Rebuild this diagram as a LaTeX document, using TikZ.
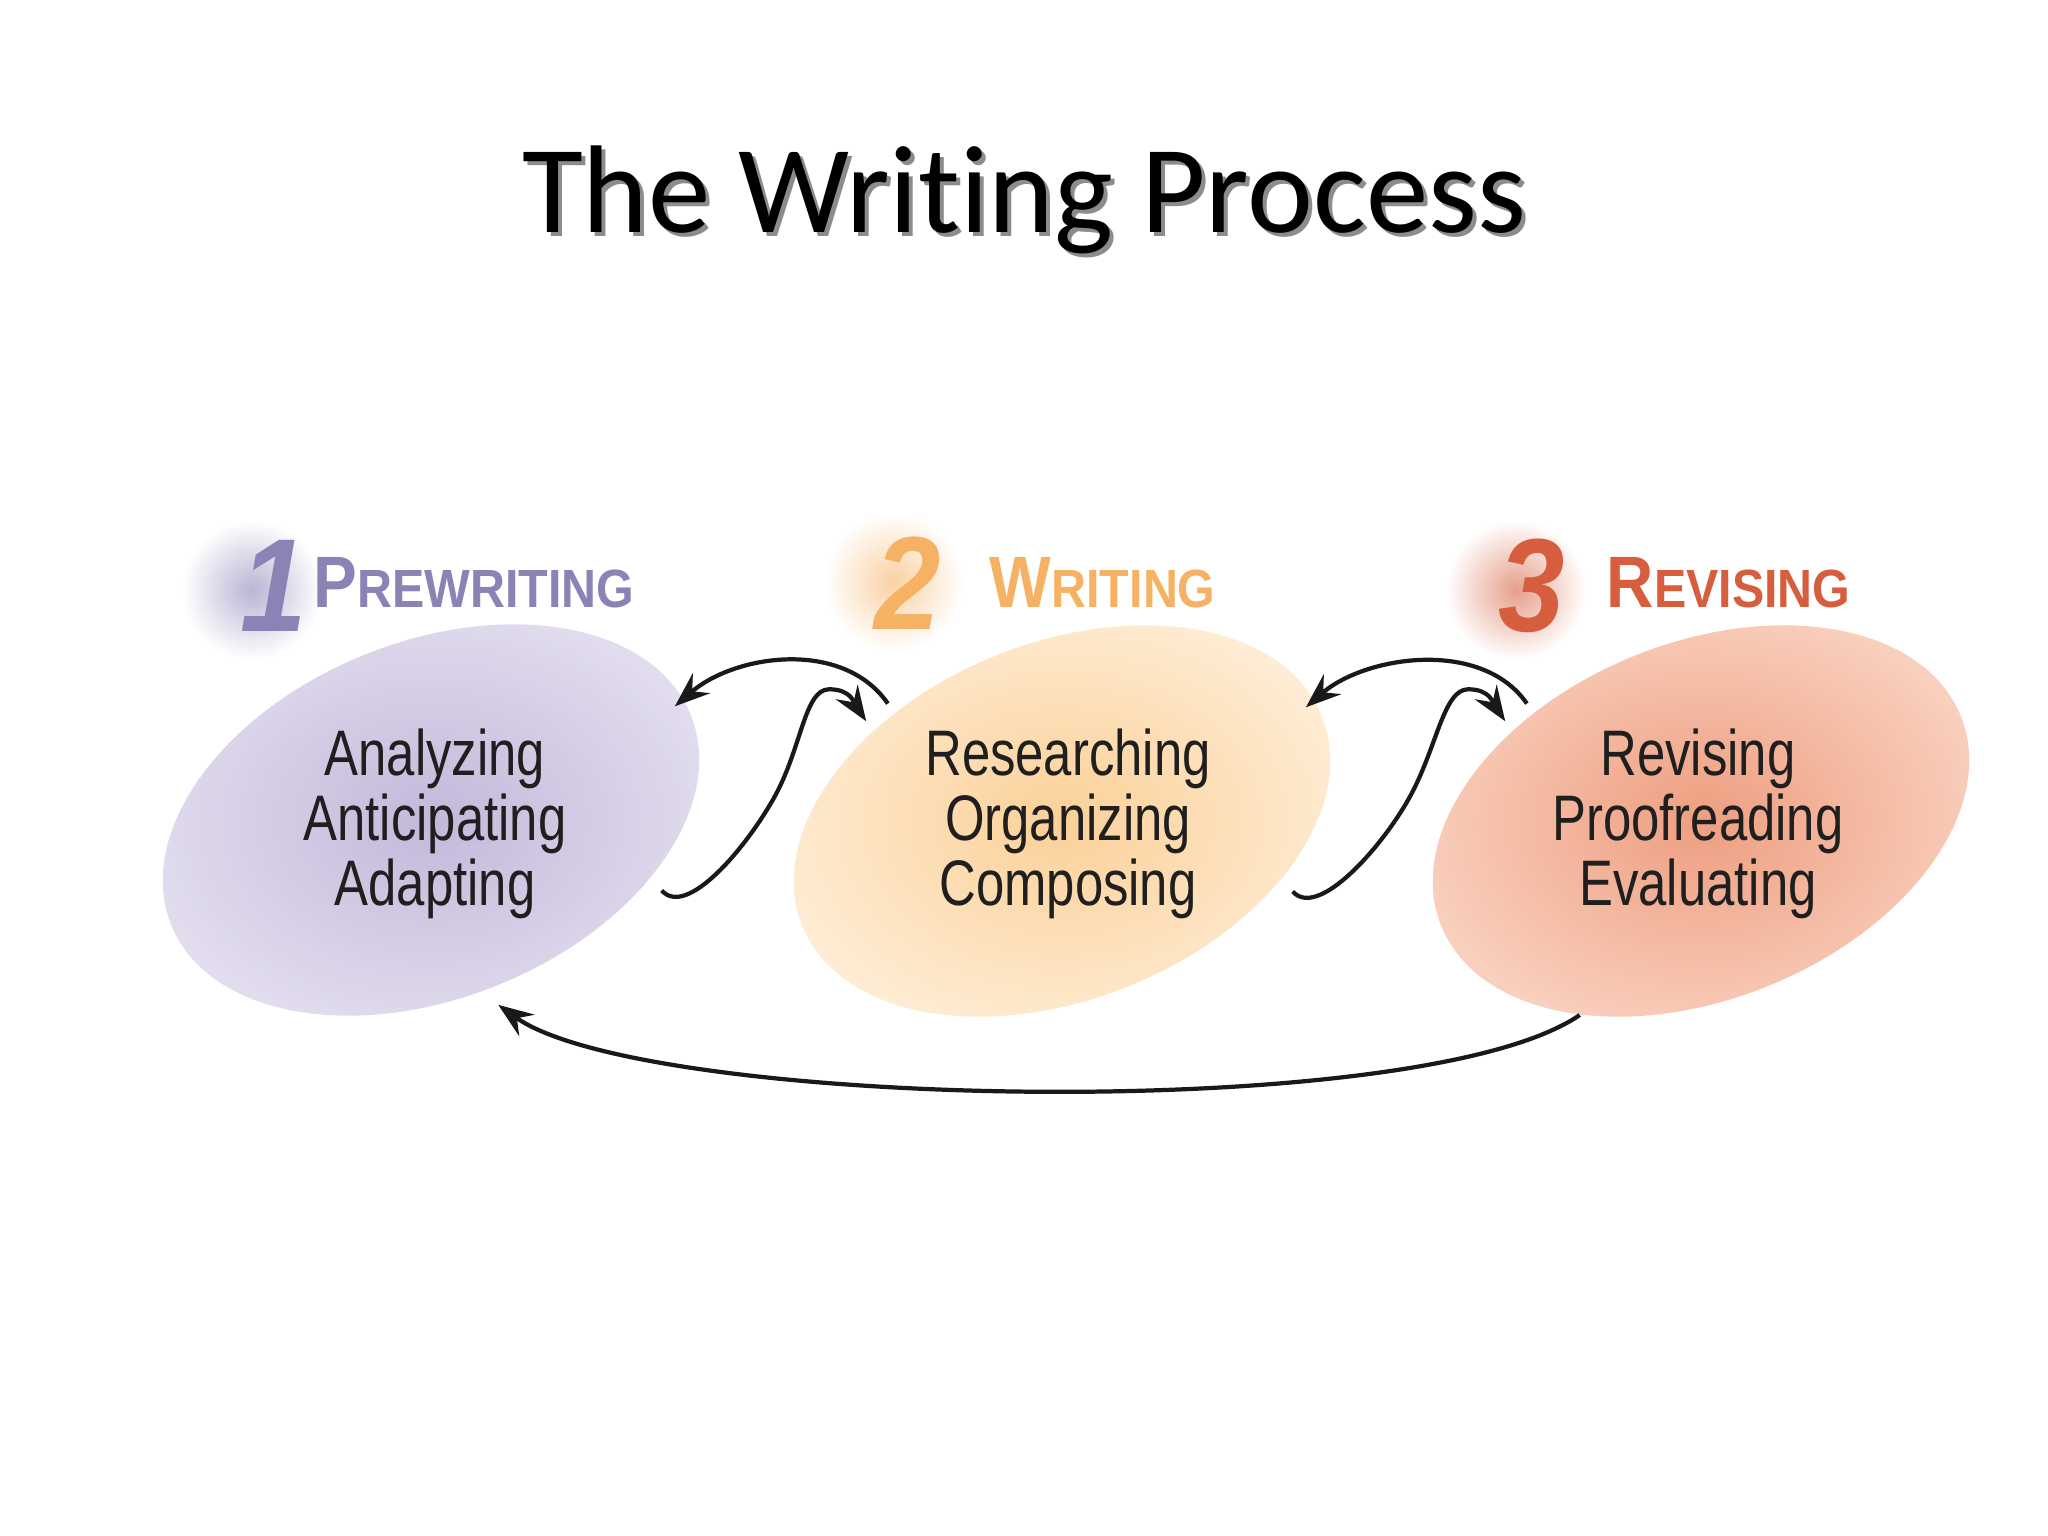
\documentclass[tikz,border=0pt]{standalone}
\usepackage{fontspec}
\setmainfont{Liberation Sans}
\newfontfamily\titlefont{Carlito}
\newfontfamily\condfont[FakeStretch=0.79]{Liberation Sans}
\newfontfamily\headfont[FakeStretch=0.9]{Liberation Sans}
\usetikzlibrary{calc,positioning,shapes.geometric,arrows.meta}

\definecolor{prewText}{RGB}{141,130,182}
\definecolor{prewIn}{RGB}{196,184,218}
\definecolor{prewOut}{RGB}{226,221,238}
\definecolor{writText}{RGB}{246,178,100}
\definecolor{writIn}{RGB}{251,208,152}
\definecolor{writOut}{RGB}{254,236,212}
\definecolor{reviText}{RGB}{214,94,62}
\definecolor{reviIn}{RGB}{238,158,128}
\definecolor{reviOut}{RGB}{249,208,190}

\newcommand{\stagetitle}[2]{{\fontsize{20.7pt}{24pt}\selectfont #1}{\fontsize{15.3pt}{18pt}\selectfont #2}}

\begin{document}
\begin{tikzpicture}[
    x=0.01cm, y=-0.01cm,
    titletext/.style={font=\titlefont\fontsize{35.5pt}{40pt}\selectfont, anchor=base, inner sep=0},
    bubble/.style={ellipse, minimum width=5.6cm, minimum height=3.56cm, rotate=22, inner sep=0},
    stagetext/.style={font=\condfont\fontsize{18.3pt}{18.5pt}\selectfont, align=center, text=black!88, inner sep=0},
    stagenum/.style={font=\headfont\bfseries\itshape\fontsize{37.7pt}{40pt}\selectfont, anchor=base west, inner sep=0},
    stageword/.style={font=\headfont\bfseries, anchor=base west, inner sep=0},
    glow/.style={circle, minimum size=1.4cm, outer color=white, inner sep=0},
    link/.style={-{Stealth[length=10pt, width=7.5pt, inset=3.5pt]}, line width=1.2pt, black!90},
]
\useasboundingbox[fill=white] (0,0) rectangle (2048,1536);

% Title
\node[titletext, text=black!45] (title-shadow) at (1028,236) {The Wri\mbox{t}ing Process};
\node[titletext] (title) at (1024,232) {The Wri\mbox{t}ing Process};

% Stage 1
\node[glow, inner color=prewText!60] (g1) at (252,590) {};
\node[stagenum, text=prewText] (n1) at (240,631) {1};
\node[stageword, text=prewText] (h1) at (313,607) {\stagetitle{P}{REWRITING}};
\node[bubble, inner color=prewIn, outer color=prewOut] (e1) at (431,820) {};
\node[stagetext] (t1) at (435,824) {Analyzing\\Anticipating\\Adapting};

% Stage 2
\node[glow, inner color=writText!60] (g2) at (894,582) {};
\node[stagenum, text=writText] (n2) at (874,629) {2};
\node[stageword, text=writText] (h2) at (989,607) {\stagetitle{W}{RITING}};
\node[bubble, inner color=writIn, outer color=writOut] (e2) at (1062,821) {};
\node[stagetext] (t2) at (1068,824) {Researching\\Organizing\\Composing};

% Stage 3
\node[glow, inner color=reviText!60] (g3) at (1516,590) {};
\node[stagenum, text=reviText] (n3) at (1498,631) {3};
\node[stageword, text=reviText] (h3) at (1606,607) {\stagetitle{R}{EVISING}};
\node[bubble, inner color=reviIn, outer color=reviOut] (e3) at (1701,821) {};
\node[stagetext] (t3) at (1698,824) {Revising\\Proofreading\\Evaluating};

% Arrows
\foreach \l/\r in {e1/e2, e2/e3} {
  % back to the stage before
  \coordinate (a) at ($(\r.center)!1.06!(\r.124)$);
  \coordinate (b) at ($(\l.center)!0.96!(\l.3)$);
  \draw[link] (a) .. controls ($(a)+(-45,-65)$) and ($(b)+(60,-52)$) .. (b);
  % on to the next stage
  \coordinate (s) at ($(\l.center)!1.08!(\l.-39)$);
  \coordinate (q) at ($(\r.center)!1.06!(\r.131)$);
  \coordinate (m) at ($(s)!0.5!(q)+(10,-8)$);
  \coordinate (p) at ($(q)+(-37,-32)$);
  \draw[link] (s) .. controls ($(s)+(25,28)$) and ($(m)+(-28,50)$) .. (m)
    .. controls ($(m)+(28,-50)$) and ($(p)+(-25,0)$) .. (p)
    .. controls ($(p)+(22,0)$) and ($(q)+(-12,-18)$) .. (q);
}
\coordinate (r) at ($(e1.center)!1.1!(e1.-92)$);
\draw[link] (e3.-144) .. controls ($(e3.-144)+(-160,110)$) and ($(r)+(145,104)$) .. (r);

\end{tikzpicture}
\end{document}
